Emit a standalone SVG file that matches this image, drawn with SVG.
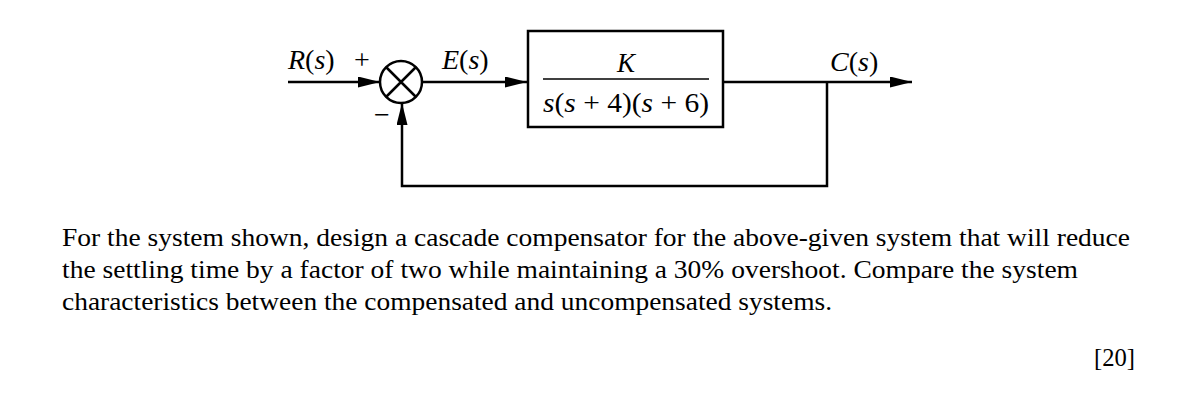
<svg xmlns="http://www.w3.org/2000/svg" width="1188" height="413" viewBox="0 0 1188 413">
<style>
.l{stroke:#000;stroke-width:2.5;fill:none}
.t{font-family:"Liberation Serif",serif;fill:#000}
.i{font-style:italic}
</style>
<defs><marker id="b" viewBox="0 0 10 10" refX="10" refY="5" markerWidth="22" markerHeight="11" markerUnits="userSpaceOnUse" orient="auto" preserveAspectRatio="none"><path d="M0,0L10,5L0,10z"/></marker></defs>
<rect width="1188" height="413" fill="#fff"/>
<g id="connectors">
<path class="l" d="M288,82H380" marker-end="url(#b)"/>
<path class="l" d="M422,82H527" marker-end="url(#b)"/>
<path class="l" d="M724,82H912" marker-end="url(#b)"/>
<path class="l" d="M827,82V186H402V103" marker-end="url(#b)"/>
</g>
<g id="sum">
<circle cx="401" cy="82" r="21" class="l" stroke-width="2"/>
<path class="l" stroke-width="2" d="M386,67L416,97M416,67L386,97"/>
</g>
<g id="plant">
<rect x="528" y="31" width="195" height="96" class="l" stroke-width="4"/>
<line x1="543" y1="79" x2="709" y2="79" stroke="#000" stroke-width="1.5"/>
<text class="t i" x="626" y="72" font-size="27" text-anchor="middle">K</text>
<text class="t" x="543" y="112" font-size="28" textLength="166" lengthAdjust="spacingAndGlyphs"><tspan class="i">s</tspan>(<tspan class="i">s</tspan> + 4)(<tspan class="i">s</tspan> + 6)</text>
</g>
<g id="labels" font-size="28">
<text class="t" x="288" y="69"><tspan class="i">R</tspan>(<tspan class="i">s</tspan>)</text>
<text class="t" x="354" y="69">+</text>
<text class="t" x="374" y="124">−</text>
<text class="t" x="442" y="69"><tspan class="i">E</tspan>(<tspan class="i">s</tspan>)</text>
<text class="t" x="830" y="71"><tspan class="i">C</tspan>(<tspan class="i">s</tspan>)</text>
</g>
<g class="t" font-size="26">
<text x="62" y="246" textLength="1068" lengthAdjust="spacingAndGlyphs">For the system shown, design a cascade compensator for the above-given system that will reduce</text>
<text x="62" y="278" textLength="1016" lengthAdjust="spacingAndGlyphs">the settling time by a factor of two while maintaining a 30% overshoot. Compare the system</text>
<text x="62" y="310" textLength="770" lengthAdjust="spacingAndGlyphs">characteristics between the compensated and uncompensated systems.</text>
<text x="1094" y="366" textLength="41" lengthAdjust="spacingAndGlyphs">[20]</text>
</g>
</svg>
